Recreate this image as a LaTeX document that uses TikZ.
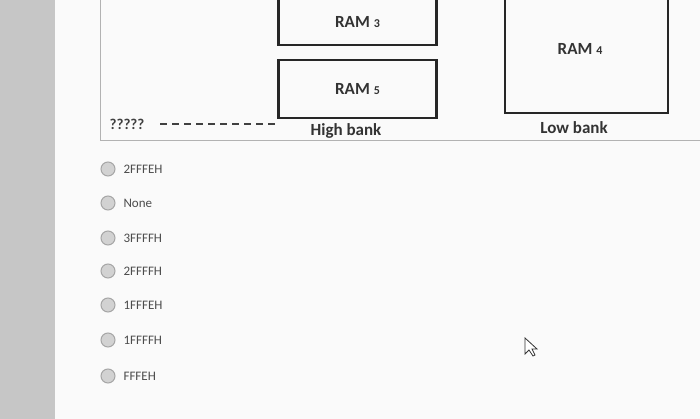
\documentclass[tikz,border=0pt]{standalone}
\usepackage{fontspec}
\setmainfont{Carlito}
\begin{document}
\begin{tikzpicture}[x=1pt,y=-1pt,
  ram/.style={draw=black!85,line width=2.5pt,inner sep=0},
  lbl/.style={font=\bfseries\fontsize{17}{17}\selectfont,text=black!80},
  radio/.style={circle,draw=gray!70,fill=gray!35,line width=1pt,minimum size=14pt,inner sep=0},
  opt/.style={font=\fontsize{13}{13}\selectfont,text=black!70,anchor=west}]
\useasboundingbox (0,0) rectangle (700,419);
\fill[gray!45] (0,0) rectangle (55,419);
\fill[gray!4] (55,0) rectangle (700,419);
\draw[gray!60,line width=0.6pt] (100,-2) -- (100,140) -- (700,140);
\node[ram,minimum width=158pt,minimum height=46pt] (r3) at (357.5,22) {};
\node[lbl] at (r3.center) {RAM \large 3};
\node[ram,minimum width=158pt,minimum height=58pt] (r5) at (357.5,89) {};
\node[lbl] at (r5.center) {RAM \large 5};
\node[ram,minimum width=163pt,minimum height=118pt] (r4) at (586.5,54) {};
\node[lbl] at (580,49) {RAM \large 4};
\node[lbl] (hb) at (346,131) {High bank};
\node[lbl] (lb) at (574,128) {Low bank};
\node[font=\bfseries\fontsize{15}{15}\selectfont,text=black!75] (q) at (127,124) {?????};
\coordinate (de) at (276,124);
\draw[line width=2.2pt,dash pattern=on 7pt off 5pt,black!75] (160,124) -- (de);
\foreach \y/\t [count=\i] in {169/2FFFEH,203/None,238/3FFFFH,271/2FFFFH,305/1FFFEH,340/1FFFFH,376/FFFEH}{
  \node[radio] (b\i) at (108,\y) {};
  \node[opt] (t\i) at (120,\y) {\t};
}
\draw[black!80,line width=0.8pt,fill=white] (525,338) -- (525,354) -- (529,350) -- (533,356) -- (535,355) -- (532,349) -- (537,349) -- cycle;
\end{tikzpicture}
\end{document}
